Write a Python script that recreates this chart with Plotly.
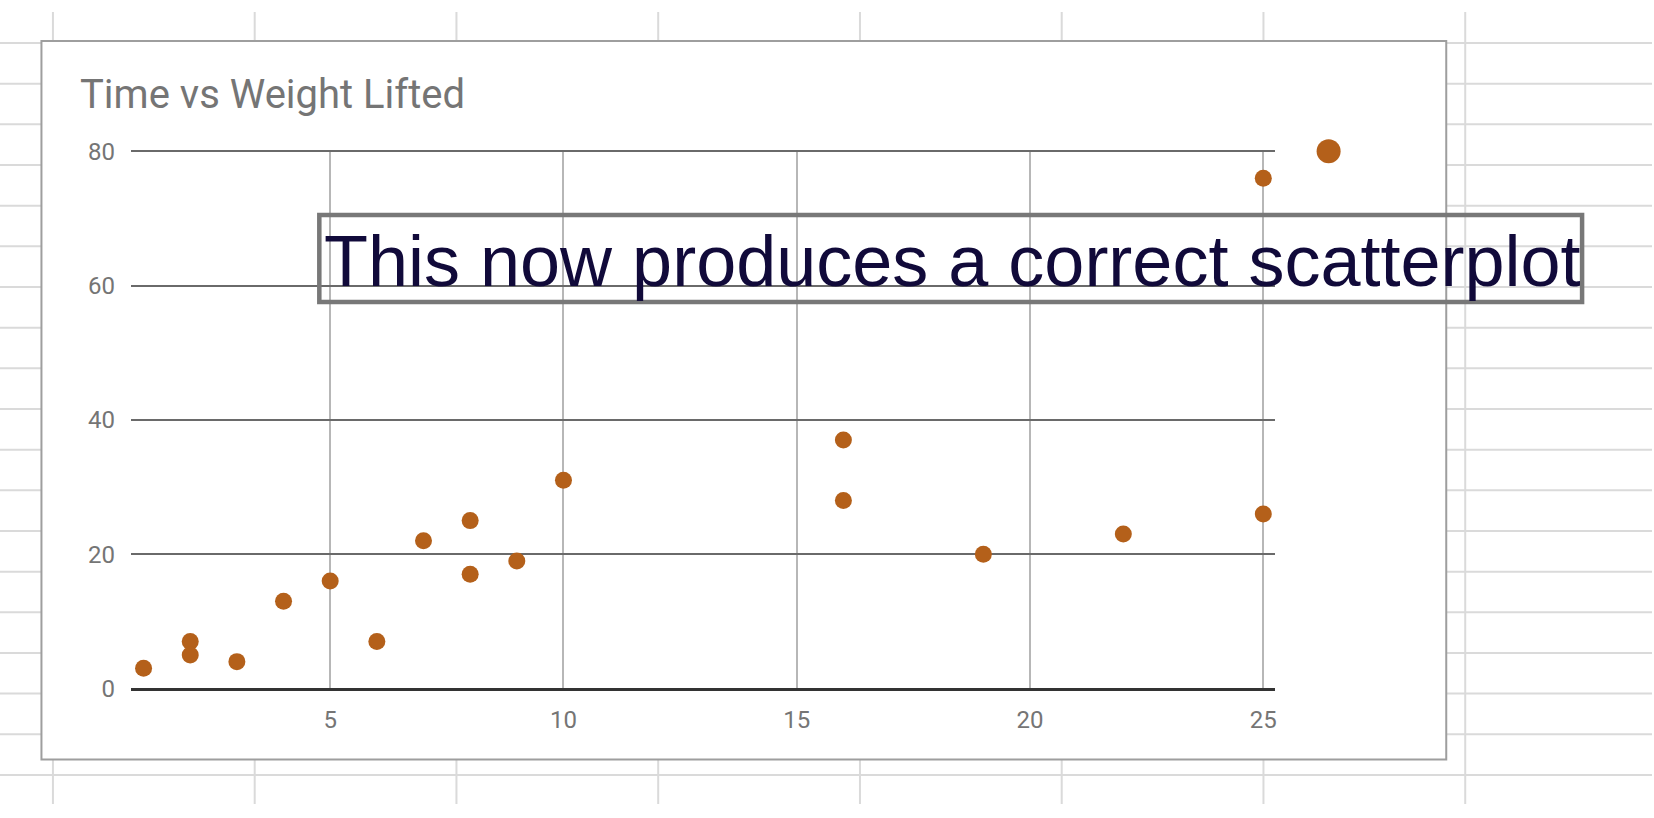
import plotly.graph_objects as go

# ---- data ----
time_min = [1, 2, 2, 3, 4, 5, 6, 7, 8, 8, 9, 10, 16, 16, 19, 22, 25, 25]
weight_lifted = [3, 7, 5, 4, 13, 16, 7, 22, 25, 17, 19, 31, 37, 28, 20, 23, 26, 76]
extra_x = [26.4]
extra_y = [80]
x_tick_vals = [5, 10, 15, 20, 25]
y_tick_vals = [0, 20, 40, 60, 80]
chart_title = "Time vs Weight Lifted"
note_text = "This now produces a correct scatterplot"

W, H = 1654, 818


def px(x):
    return x / W


def py(y):
    return 1 - y / H


DOT = "#b4601a"
TICK_GREY = "#757575"

# pixel geometry of the plot area
X_L, X_R = 130.9, 1276.5
X_MIN, X_MAX = 0.725, 25.25
PX_PER_X = (X_R - X_L) / (X_MAX - X_MIN)
Y_TOP, Y_BOT = 142.5, 698.7
Y_MAX = 80.2

fig = go.Figure()
fig.add_trace(go.Scatter(
    x=time_min, y=weight_lifted, mode="markers",
    marker=dict(color=DOT, size=17, line=dict(width=0)),
    showlegend=False, hoverinfo="x+y",
))
# the larger dot sits to the right of the plot area: an invisible, wider
# pair of axes with the same scale carries it
X2_R = 1380
fig.add_trace(go.Scatter(
    x=extra_x, y=extra_y, mode="markers", xaxis="x2", yaxis="y2",
    marker=dict(color=DOT, size=24, line=dict(width=0)),
    showlegend=False, cliponaxis=False, hoverinfo="x+y",
))

shapes = []
# spreadsheet cell grid behind the chart
for k in range(8):
    xc = 53 + 202 * k
    shapes.append(dict(type="line", xref="paper", yref="paper",
                       x0=px(xc), x1=px(xc), y0=0, y1=1,
                       line=dict(color="#dadada", width=2), layer="below"))
for k in range(19):
    yc = 32 + 42 * k
    shapes.append(dict(type="line", xref="paper", yref="paper",
                       x0=0, x1=1, y0=py(yc), y1=py(yc),
                       line=dict(color="#dadada", width=2), layer="below"))
# chart card
shapes.append(dict(type="rect", xref="paper", yref="paper",
                   x0=px(41.5), x1=px(1448), y0=py(772), y1=py(30),
                   fillcolor="white", line=dict(color="#9e9e9e", width=2),
                   layer="below"))
# annotation box (transparent)
shapes.append(dict(type="rect", xref="paper", yref="paper",
                   x0=px(319.7), x1=px(1584), y0=py(299.5), y1=py(209.7),
                   fillcolor="rgba(0,0,0,0)", line=dict(color="#787878", width=4.5),
                   layer="above"))

annotations = [
    dict(text=chart_title, xref="paper", yref="paper", x=px(78), y=py(85.5),
         xanchor="left", yanchor="middle", showarrow=False,
         font=dict(family="Roboto", size=40, color=TICK_GREY)),
    dict(text=note_text, xref="paper", yref="paper", x=px(322.5), y=py(256.8),
         xanchor="left", yanchor="middle", showarrow=False,
         font=dict(family="Liberation Sans, Arial", size=72, color="#110a3a")),
]

fig.update_layout(
    width=W, height=H, autosize=False,
    margin=dict(l=0, r=0, t=0, b=0, pad=0),
    paper_bgcolor="white", plot_bgcolor="rgba(0,0,0,0)",
    shapes=shapes, annotations=annotations,
    font=dict(family="Roboto", color=TICK_GREY, size=24),
    xaxis=dict(
        domain=[px(X_L), px(X_R)], range=[X_MIN, X_MAX],
        tickvals=x_tick_vals, ticktext=[str(v) for v in x_tick_vals],
        showgrid=True, gridcolor="#b7b7b7", gridwidth=2,
        zeroline=False, showline=True, linecolor="#333333", linewidth=2.5,
        ticks="outside", ticklen=8, tickcolor="rgba(0,0,0,0)",
        tickfont=dict(family="Roboto", size=24, color=TICK_GREY),
    ),
    yaxis=dict(
        domain=[py(Y_BOT), py(Y_TOP)], range=[0, Y_MAX],
        tickvals=y_tick_vals, ticktext=[str(v) for v in y_tick_vals],
        showgrid=True, gridcolor="#6a6a6a", gridwidth=2,
        zeroline=False, showline=False,
        ticks="outside", ticklen=10, tickcolor="rgba(0,0,0,0)",
        tickfont=dict(family="Roboto", size=24, color=TICK_GREY),
    ),
    xaxis2=dict(
        domain=[px(X_L), px(X2_R)],
        range=[X_MIN, X_MIN + (X2_R - X_L) / PX_PER_X],
        anchor="y2", visible=False, showgrid=False, zeroline=False,
    ),
    yaxis2=dict(
        domain=[py(Y_BOT), py(Y_TOP)], range=[0, Y_MAX],
        anchor="x2", visible=False, showgrid=False, zeroline=False,
    ),
)

fig.write_html("out.html", config={"displayModeBar": False},
               post_script="document.body.style.margin='0';document.body.style.overflow='hidden';")
